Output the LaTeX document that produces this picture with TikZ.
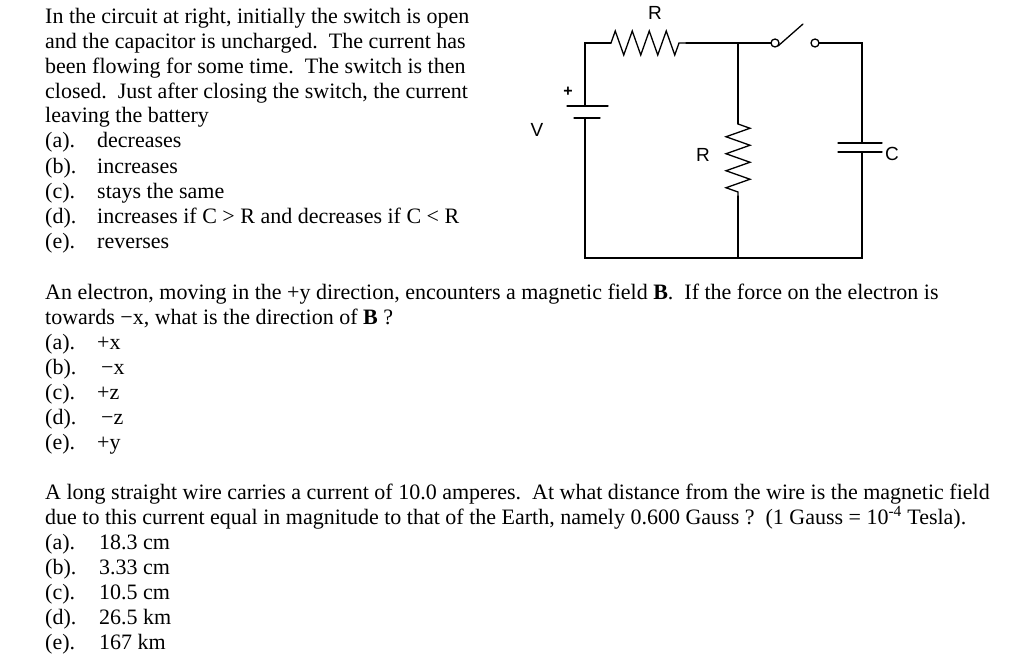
\documentclass[tikz,border=0pt]{standalone}
\usepackage{fontspec}
\setmainfont{Liberation Serif}
\newfontfamily\lab{Liberation Sans}
\usetikzlibrary{decorations.pathmorphing}
\begin{document}
\begin{tikzpicture}[x=1pt,y=-1pt,
  txt/.style={anchor=base west,inner sep=0pt,font=\fontsize{22}{25}\selectfont},
  lbl/.style={inner sep=0pt,font=\lab\fontsize{19}{22}\selectfont},
  wire/.style={line width=1.3pt,line cap=round},
  zz/.style={wire,decorate,decoration={zigzag,segment length=17pt,amplitude=12pt}}]
\useasboundingbox (0,0) rectangle (1024,663);
% paragraph 1
\node[txt] (p1l0) at (45,24) {In the circuit at right, initially the switch is open};
\node[txt] (p1l1) at (45,49) {and the capacitor is uncharged.\ \ The current has};
\node[txt] (p1l2) at (45,74) {been flowing for some time.\ \ The switch is then};
\node[txt] (p1l3) at (45,99) {closed.\ \ Just after closing the switch, the current};
\node[txt] (p1l4) at (45,123) {leaving the battery};
\node[txt] (a1) at (45,148) {(a).}; \node[txt] (a1t) at (97,148) {decreases};
\node[txt] (b1) at (45,173) {(b).}; \node[txt] (b1t) at (97,173) {increases};
\node[txt] (c1) at (45,198) {(c).}; \node[txt] (c1t) at (97,198) {stays the same};
\node[txt] (d1) at (45,223) {(d).}; \node[txt] (d1t) at (97,223) {increases if C > R and decreases if C < R};
\node[txt] (e1) at (45,248) {(e).}; \node[txt] (e1t) at (97,248) {reverses};
% paragraph 2
\node[txt] (p2a) at (45,299) {An electron, moving in the +y direction, encounters a magnetic field \textbf{B}.\ \ If the force on the electron is};
\node[txt] (p2b) at (45,324) {towards −x, what is the direction of \textbf{B} ?};
\node[txt] (a2) at (45,349) {(a).}; \node[txt] (a2t) at (97,349) {+x};
\node[txt] (b2) at (45,374) {(b).}; \node[txt] (b2t) at (101,374) {−x};
\node[txt] (c2) at (45,399) {(c).}; \node[txt] (c2t) at (97,399) {+z};
\node[txt] (d2) at (45,424) {(d).}; \node[txt] (d2t) at (101,424) {−z};
\node[txt] (e2) at (45,449) {(e).}; \node[txt] (e2t) at (97,449) {+y};
% paragraph 3
\node[txt] (p3a) at (45,499) {A long straight wire carries a current of 10.0 amperes.\ \ At what distance from the wire is the magnetic field};
\node[txt] (p3b) at (45,524) {due to this current equal in magnitude to that of the Earth, namely 0.600 Gauss ?\ \ (1 Gauss = 10\textsuperscript{-4} Tesla).};
\node[txt] (a3) at (45,549) {(a).}; \node[txt] (a3t) at (99,549) {18.3 cm};
\node[txt] (b3) at (45,574) {(b).}; \node[txt] (b3t) at (99,574) {3.33 cm};
\node[txt] (c3) at (45,599) {(c).}; \node[txt] (c3t) at (99,599) {10.5 cm};
\node[txt] (d3) at (45,624) {(d).}; \node[txt] (d3t) at (99,624) {26.5 km};
\node[txt] (e3) at (45,649) {(e).}; \node[txt] (e3t) at (99,649) {167 km};
% circuit
\coordinate (tl) at (585,43); \coordinate (r1a) at (611,43); \coordinate (r1b) at (686,43);
\coordinate (j) at (738,43); \coordinate (s1) at (775,43); \coordinate (s2) at (815,43);
\coordinate (tr) at (862,43); \coordinate (bl) at (585,258); \coordinate (bj) at (738,258);
\coordinate (br) at (862,258);
\draw[wire] (585,95) -- (tl) -- (r1a);
\draw[zz] (r1a) -- (r1b);
\draw[wire] (r1b) -- (j) -- ([xshift=-4pt]s1);
\draw[wire] (s1) circle (4); \draw[wire] (s2) circle (4);
\draw[wire] ([xshift=3pt,yshift=-3pt]s1) -- (803,24);
\draw[wire] ([xshift=4pt]s2) -- (tr) -- (862,143);
% battery
\draw[wire] (567,106) -- (608,106);
\draw[wire] (574,118) -- (600,118);
\draw[wire] (585,106) -- (585,95);
\draw[wire] (585,118) -- (bl) -- (bj) -- (br) -- (862,152);
% vertical resistor
\draw[wire] (j) -- (738,124);
\draw[zz] (738,124) -- (738,196);
\draw[wire] (738,196) -- (bj);
% capacitor
\draw[wire] (838,143) -- (882,143);
\draw[wire] (838,152) -- (882,152);
\node[lbl] (lR1) at (655,13) {R};
\node[lbl] (lV) at (537,130) {V};
\node[lbl] (lR2) at (703,155) {R};
\node[lbl] (lC) at (892,154) {C};
\node[lbl,font=\lab\bfseries\fontsize{16}{18}\selectfont] (plus) at (568,92) {+};
\end{tikzpicture}
\end{document}
